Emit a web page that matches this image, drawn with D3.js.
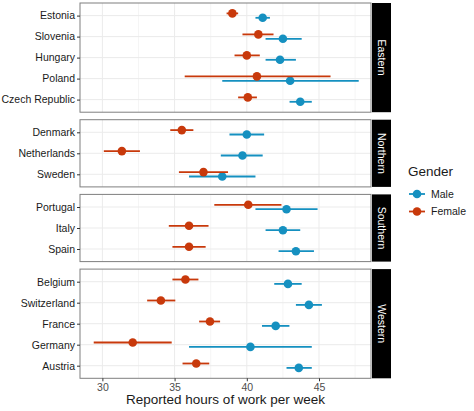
<!DOCTYPE html>
<html><head><meta charset="utf-8">
<script src="https://cdn.jsdelivr.net/npm/d3@7"></script>
<style>body{margin:0;background:#fff}text{font-family:"Liberation Sans",Arial,sans-serif}</style>
</head><body><svg id="c" width="474" height="411"></svg>
<script>
const regions = ["Eastern","Northern","Southern","Western"];
const countries = {
  Eastern:["Estonia","Slovenia","Hungary","Poland","Czech Republic"],
  Northern:["Denmark","Netherlands","Sweden"],
  Southern:["Portugal","Italy","Spain"],
  Western:["Belgium","Switzerland","France","Germany","Austria"]
};
const maleMean = {Estonia:41.1,Slovenia:42.5,Hungary:42.3,Poland:43.0,"Czech Republic":43.7,Denmark:40.0,Netherlands:39.7,Sweden:38.3,Portugal:42.75,Italy:42.5,Spain:43.4,Belgium:42.85,Switzerland:44.3,France:42.0,Germany:40.25,Austria:43.6};
const maleLo = {Estonia:40.6,Slovenia:41.3,Hungary:41.3,Poland:38.3,"Czech Republic":42.96,Denmark:38.8,Netherlands:38.2,Sweden:36.0,Portugal:40.6,Italy:41.3,Spain:42.2,Belgium:41.9,Switzerland:43.4,France:41.05,Germany:36.0,Austria:42.75};
const maleHi = {Estonia:41.6,Slovenia:43.8,Hungary:43.4,Poland:47.75,"Czech Republic":44.5,Denmark:41.2,Netherlands:41.1,Sweden:40.6,Portugal:44.9,Italy:43.7,Spain:44.65,Belgium:43.8,Switzerland:45.2,France:42.95,Germany:44.5,Austria:44.5};
const femMean = {Estonia:39.0,Slovenia:40.8,Hungary:40.0,Poland:40.7,"Czech Republic":40.07,Denmark:35.5,Netherlands:31.35,Sweden:37.0,Portugal:40.1,Italy:36.0,Spain:36.0,Belgium:35.75,Switzerland:34.05,France:37.45,Germany:32.1,Austria:36.5};
const femLo = {Estonia:38.6,Slovenia:39.7,Hungary:39.15,Poland:35.7,"Czech Republic":39.4,Denmark:34.7,Netherlands:30.1,Sweden:35.3,Portugal:37.75,Italy:34.6,Spain:34.85,Belgium:34.85,Switzerland:33.1,France:36.7,Germany:29.4,Austria:35.55};
const femHi = {Estonia:39.4,Slovenia:41.85,Hungary:40.9,Poland:45.8,"Czech Republic":40.7,Denmark:36.3,Netherlands:32.6,Sweden:38.7,Portugal:42.4,Italy:37.35,Spain:37.15,Belgium:36.65,Switzerland:35.05,France:38.15,Germany:34.8,Austria:37.4};
const xTicks = [30,35,40,45];
const genders = ["Male","Female"];
const colors = {Male:"#1590c0", Female:"#c8390b"};

const svg = d3.select("#c");
const L=80, R=371, step=21, gap=7.5, topY=3;
const x = d3.scaleLinear().domain([28.45,48.6]).range([L,R]);
let y0 = topY;
regions.forEach(reg=>{
  const cs = countries[reg];
  const h = (cs.length+0.2)*step;
  const y = d3.scalePoint().domain(cs).range([y0+0.6*step, y0+h-0.6*step]);
  const g = svg.append("g");
  g.append("rect").attr("x",L).attr("y",y0).attr("width",R-L).attr("height",h).attr("fill","#fff");
  d3.range(30,48.1,2.5).forEach(v=>{
    g.append("line").attr("x1",x(v)).attr("x2",x(v)).attr("y1",y0).attr("y2",y0+h)
     .attr("stroke","#ebebeb").attr("stroke-width",xTicks.includes(v)?1:0.5);
  });
  cs.forEach(c=>g.append("line").attr("x1",L).attr("x2",R).attr("y1",y(c)).attr("y2",y(c)).attr("stroke","#ebebeb"));
  const dodge = {Female:-2.2, Male:2.2};
  const src = {Male:[maleMean,maleLo,maleHi],Female:[femMean,femLo,femHi]};
  ["Male","Female"].forEach(gd=>{
    const [m,lo,hi]=src[gd];
    cs.forEach(c=>{
      const yy=y(c)+dodge[gd];
      g.append("line").attr("x1",x(lo[c])).attr("x2",x(hi[c])).attr("y1",yy).attr("y2",yy).attr("stroke",colors[gd]).attr("stroke-width",1.8);
      g.append("circle").attr("cx",x(m[c])).attr("cy",yy).attr("r",4.3).attr("fill",colors[gd]);
    });
  });
  g.append("rect").attr("x",L).attr("y",y0).attr("width",R-L).attr("height",h).attr("fill","none").attr("stroke","#7f7f7f").attr("stroke-width",1);
  g.append("rect").attr("x",R+1).attr("y",y0).attr("width",19).attr("height",h).attr("fill","#000");
  g.append("text").attr("transform",`translate(${R+10.5},${y0+h/2}) rotate(90)`).attr("text-anchor","middle").attr("dy","0.35em").attr("fill","#fff").attr("font-size",10.5).text(reg);
  const ya = d3.axisLeft(y).tickSize(3).tickPadding(2);
  const ag = g.append("g").attr("transform",`translate(${L},0)`).call(ya);
  ag.select(".domain").remove();
  ag.selectAll("line").attr("stroke","#333");
  ag.selectAll("text").attr("font-size",10.5).attr("fill","#1a1a1a").style("font-family","Liberation Sans, Arial, sans-serif");
  y0 += h + gap;
});
const yb = y0 - gap;
const xa = d3.axisBottom(x).tickValues(xTicks).tickSize(3).tickPadding(2);
const xg = svg.append("g").attr("transform",`translate(0,${yb})`).call(xa);
xg.select(".domain").remove();
xg.selectAll("line").attr("stroke","#333");
xg.selectAll("text").attr("font-size",10.5).attr("fill","#4d4d4d").style("font-family","Liberation Sans, Arial, sans-serif");
svg.append("text").attr("x",(L+R)/2).attr("y",404).attr("text-anchor","middle").attr("font-size",13.5).attr("fill","#1a1a1a").text("Reported hours of work per week");
svg.append("text").attr("x",408).attr("y",176).attr("font-size",13.5).attr("fill","#1a1a1a").text("Gender");
genders.forEach((gd,i)=>{
  const cy = 194 + i*17.5;
  svg.append("line").attr("x1",409).attr("x2",425).attr("y1",cy).attr("y2",cy).attr("stroke",colors[gd]).attr("stroke-width",1.8);
  svg.append("circle").attr("cx",417).attr("cy",cy).attr("r",4.3).attr("fill",colors[gd]);
  svg.append("text").attr("x",431).attr("y",cy).attr("dy","0.35em").attr("font-size",10.5).attr("fill","#1a1a1a").text(gd);
});
</script></body></html>
